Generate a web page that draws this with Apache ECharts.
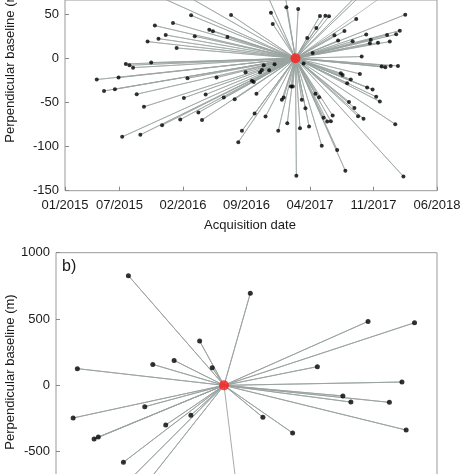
<!DOCTYPE html>
<html>
<head>
<meta charset="utf-8">
<script src="https://cdn.jsdelivr.net/npm/echarts@6/dist/echarts.min.js"></script>
<style>html,body{margin:0;padding:0;background:#fff}#c{width:474px;height:474px}</style>
</head>
<body>
<div id="c"></div>
<script>
// panel a: months since 01/2015, perpendicular baseline (m)
var topMaster = [25.4, 0];
var topMonths = [13.9,18.3,22.7,24.4,25.7,22.9,28.1,28.7,29.1,32.1,37.5,9.9,11.9,11.1,10.3,9.1,14.3,15.9,16.3,17.9,12.3,27.7,26.7,27.3,29.7,30.8,30.1,31.7,33.2,33.7,33.6,34.5,35.5,36.5,36.9,35.8,32.7,6.7,7.1,7.5,9.5,3.5,5.9,4.3,5.5,7.9,13.5,16.7,8.7,13.1,15.5,17.5,18.7,6.3,8.3,10.7,12.7,14.7,15.1,19.5,19.1,20.9,22.1,19.9,20.6,20.8,21.5,21.7,21.9,22.5,23.1,21.1,24.9,25.1,23.9,24.1,24.5,23.5,25.9,26.1,26.5,26.9,25.5,26.3,27.6,28,28.5,28.9,29.3,29.5,28.3,30,30.9,30.4,30.6,31.5,31.1,32.5,31.3,31.9,32.3,32.9,33.3,33.9,34.3,34.7,34.9,35.3,35.9,36.7,36.4,37.3,
  5,11,21.5,24,33,34.5,37];
var topBaselines = [48.6,49,51.7,57.7,55.8,38.8,47.9,48.3,47.5,44.5,49.4,37,40,26.4,22.2,18.9,24.9,32.4,30.5,24.1,11.7,34.3,23,6,26,30.9,20,19.2,26.8,21.1,17,17.7,26.4,27.1,31.3,18.9,1.9,-6.4,-7.9,-10.6,-4.9,-24.1,-21.9,-37,-35.1,-40.7,-22.6,-21.9,-55,-44.9,-41.1,-44.5,-46.4,-89,-86.7,-75.8,-69.4,-61.5,-69.8,-82.2,-95,-62.6,-66,-15.8,-25.6,-26.8,-15.8,-13.2,-7.9,-13.6,-6.8,-40.3,-32,-32,-47.1,-44.5,-73.5,-82.2,-79.2,-47.1,-56.6,-77.3,-133,-6,-40.3,-44.1,-67.5,-71.6,-71.3,-64.9,-99.2,-104,-127.5,-17,-18.9,-24.1,-28.3,-17.7,-49.4,-56.2,-65.6,-68.6,-33.2,-35.4,-43.7,-49,-9.4,-10.2,-8.7,-8.7,-74.7,-133.9,
  95,85,90,88,80,90,85];
var topTickMonths = [0,6,13,20,27,34,41];
var topTickLabels = ['01/2015','07/2015','02/2016','09/2016','04/2017','11/2017','06/2018'];

// panel b: relative time, perpendicular baseline (m)
var botMaster = [44.1, 0];
var botTimes = [19,51,37.7,41,31,25.4,5.6,81.9,94.1,68.6,90.8,75.3,77.4,87.5,91.9,54.3,62.1,23.3,4.5,10,11.1,28.8,35.4,17.7,11.5,18.5,47.8];
var botBaselines = [827,694,334,133,188,158,126,482,472,141,25,-80,-126,-128,-337,-241,-359,-161,-246,-405,-390,-299,-226,-580,-937,-930,-864];

function star(master, xs, ys) {
  var d = [];
  for (var i = 0; i < xs.length; i++) { d.push(master); d.push([xs[i], ys[i]]); }
  return d;
}
function pts(xs, ys) { return xs.map(function (x, i) { return [x, ys[i]]; }); }

var txt = '#1a1a1a';
var chart = echarts.init(document.getElementById('c'));
chart.setOption({
  animation: false,
  grid: [
    {left: 65, right: 37, top: 0, height: 190.7, show: true, borderColor: '#999', borderWidth: 1, outerBoundsMode: 'none'},
    {left: 56, right: 37, top: 252.7, height: 265.3, show: true, borderColor: '#999', borderWidth: 1, outerBoundsMode: 'none'}
  ],
  xAxis: [
    {gridIndex: 0, type: 'value', min: 0, max: 41,
      axisLine: {show: false, onZero: false}, splitLine: {show: false},
      axisTick: {inside: true, length: 4, lineStyle: {color: '#888'}, customValues: topTickMonths},
      axisLabel: {customValues: topTickMonths, color: txt, fontSize: 13, fontFamily: 'Arial', margin: 8,
        formatter: function (v) { return topTickLabels[topTickMonths.indexOf(v)]; }}},
    {gridIndex: 1, type: 'value', min: 0, max: 100, show: false}
  ],
  yAxis: [
    {gridIndex: 0, type: 'value', min: -150, max: 66, interval: 50,
      axisLine: {show: false, onZero: false}, splitLine: {show: false},
      axisTick: {inside: true, length: 4, lineStyle: {color: '#888'}, customValues: [-150, -100, -50, 0, 50]},
      axisLabel: {color: txt, fontSize: 13, fontFamily: 'Arial', margin: 6,
        customValues: [-150, -100, -50, 0, 50]}},
    {gridIndex: 1, type: 'value', min: -1000, max: 1000, interval: 500,
      axisLine: {show: false, onZero: false}, splitLine: {show: false},
      axisTick: {inside: true, length: 4, lineStyle: {color: '#888'}},
      axisLabel: {color: txt, fontSize: 13, fontFamily: 'Arial', margin: 6,
        formatter: function (v) { return String(v); }}}
  ],
  series: [
    {type: 'line', xAxisIndex: 0, yAxisIndex: 0, data: star(topMaster, topMonths, topBaselines),
      showSymbol: false, lineStyle: {color: '#9aa3a0', width: 0.7}, z: 1},
    {type: 'scatter', xAxisIndex: 0, yAxisIndex: 0, data: pts(topMonths, topBaselines),
      symbolSize: 4, itemStyle: {color: '#000'}, z: 2},
    {type: 'scatter', xAxisIndex: 0, yAxisIndex: 0, data: [topMaster],
      symbolSize: 10, itemStyle: {color: '#ff1a1a'}, z: 3},
    {type: 'line', xAxisIndex: 1, yAxisIndex: 1, data: star(botMaster, botTimes, botBaselines),
      showSymbol: false, lineStyle: {color: '#9aa3a0', width: 0.9}, z: 1},
    {type: 'scatter', xAxisIndex: 1, yAxisIndex: 1, data: pts(botTimes, botBaselines),
      symbolSize: 5, itemStyle: {color: '#000'}, z: 2},
    {type: 'scatter', xAxisIndex: 1, yAxisIndex: 1, data: [botMaster],
      symbolSize: 10, itemStyle: {color: '#ff1a1a'}, z: 3}
  ],
  graphic: [
    {type: 'text', x: 250, y: 225, style: {text: 'Acquisition date', fill: txt, font: '13px Arial', textAlign: 'center', textVerticalAlign: 'middle'}},
    {type: 'text', x: 10, y: 65, rotation: Math.PI / 2, style: {text: 'Perpendicular baseline (m)', fill: txt, font: '13px Arial', textAlign: 'center', textVerticalAlign: 'middle'}},
    {type: 'text', x: 10, y: 372, rotation: Math.PI / 2, style: {text: 'Perpendicular baseline (m)', fill: txt, font: '13px Arial', textAlign: 'center', textVerticalAlign: 'middle'}},
    {type: 'text', x: 62, y: 267, style: {text: 'b)', fill: txt, font: '16px Arial', textVerticalAlign: 'middle'}}
  ]
});
</script>
</body>
</html>
